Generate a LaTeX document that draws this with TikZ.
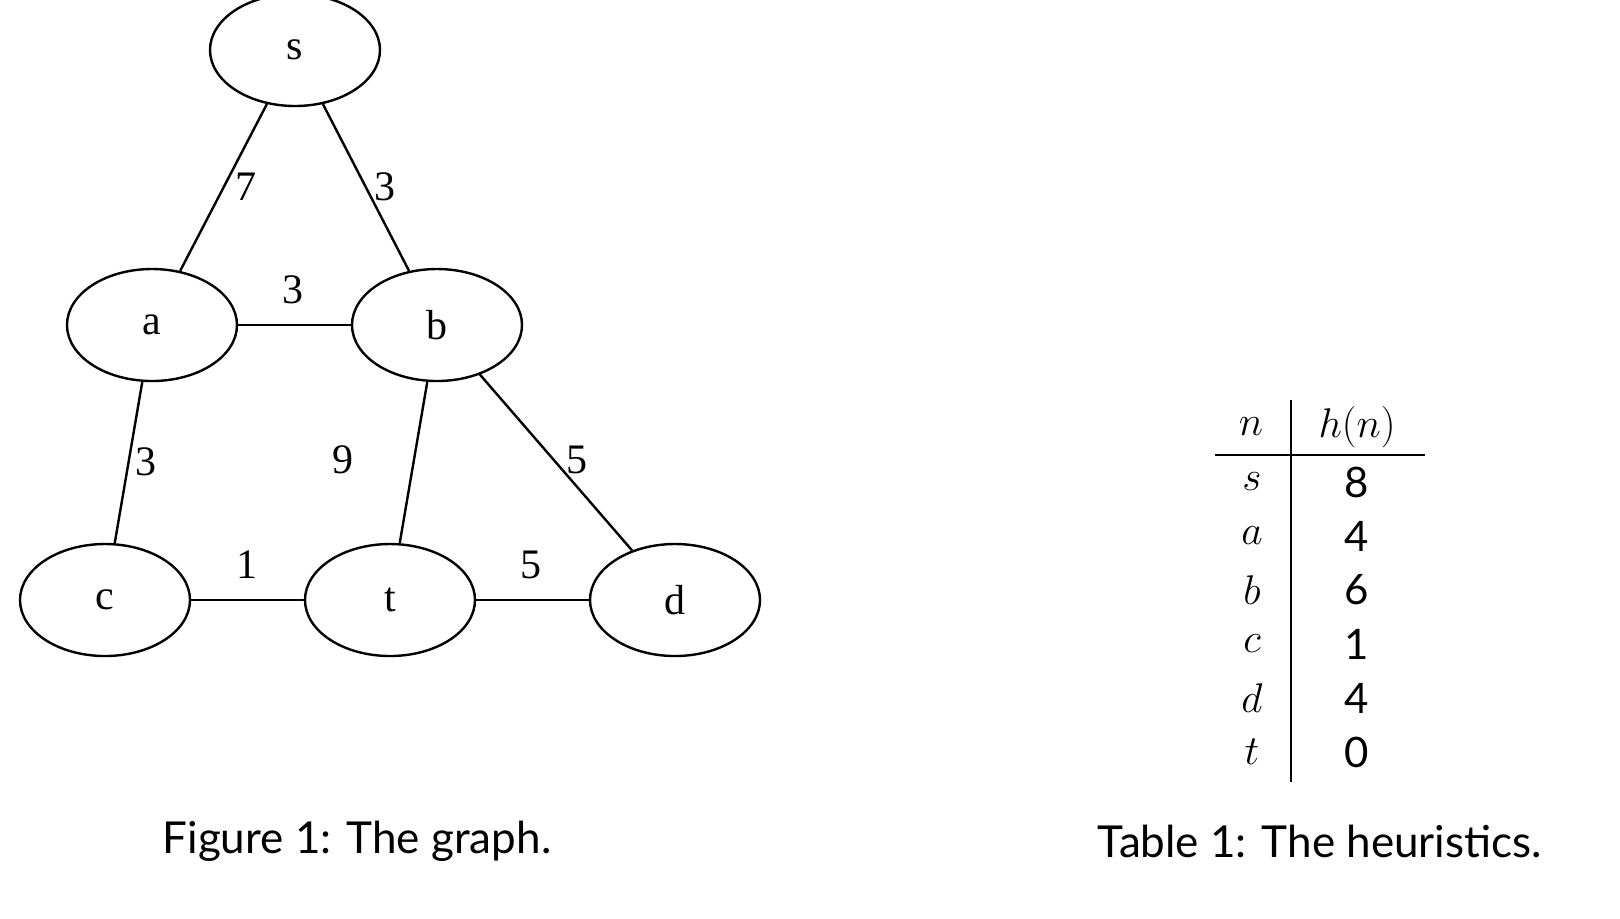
\documentclass[tikz,border=0pt]{standalone}
\usepackage{fontspec}
\setmainfont{Liberation Serif}
\newfontfamily\lato{Lato}
\usetikzlibrary{shapes.geometric}
\begin{document}
\begin{tikzpicture}[x=0.5pt,y=-0.5pt,
  vert/.style={draw,ellipse,line width=1.2pt,minimum width=85pt,minimum height=56pt,inner sep=0pt,font=\fontsize{21}{24}\selectfont},
  edge/.style={line width=1.2pt},
  wt/.style={font=\fontsize{21}{24}\selectfont,inner sep=0pt},
  cell/.style={font=\fontsize{22}{26}\selectfont,inner sep=0pt},
  num/.style={font=\lato\fontsize{21}{25}\selectfont,inner sep=0pt},
  captext/.style={font=\lato\fontsize{22}{26}\selectfont,inner sep=0pt}]
\useasboundingbox (0,0) rectangle (1620,918);
\node[vert] (s) at (295,50) {s};
\node[vert] (a) at (152,325) {a};
\node[vert] (b) at (437,325) {b};
\node[vert] (c) at (105,600) {c};
\node[vert] (t) at (390,600) {t};
\node[vert] (d) at (675,600) {d};
\draw[edge] (s) -- (a);
\draw[edge] (s) -- (b);
\draw[edge] (a) -- (b);
\draw[edge] (a) -- (c);
\draw[edge] (b) -- (t);
\draw[edge] (b) -- (d);
\draw[edge] (c) -- (t);
\draw[edge] (t) -- (d);
\node[wt] (w1) at (246,187) {7};
\node[wt] (w2) at (385,187) {3};
\node[wt] (w3) at (293,290) {3};
\node[wt] (w4) at (146,462) {3};
\node[wt] (w5) at (343,460) {9};
\node[wt] (w6) at (577,460) {5};
\node[wt] (w7) at (247,565) {1};
\node[wt] (w8) at (531,565) {5};
% table
\coordinate (vt) at (1291,400); \coordinate (vb) at (1291,782);
\coordinate (hl) at (1215,455); \coordinate (hr) at (1425,455);
\draw[line width=0.9pt] (vt) -- (vb);
\draw[line width=0.9pt] (hl) -- (hr);
\node[cell] (hn) at (1251,427) {$n$};
\node[cell] (hh) at (1357,427) {$h(n)$};
\foreach \l/\v/\y in {s/8/482, a/4/536, b/6/590, c/1/644, d/4/698, t/0/752}{
  \node[cell] (l\l) at (1252,\y) {$\l$};
  \node[num] (v\l) at (1357,\y) {\v};
}
\node[captext] (cap1) at (357,841) {Figure 1: The graph.};
\node[captext] (cap2) at (1320,841) {Table 1: The heuristics.};
\end{tikzpicture}
\end{document}
